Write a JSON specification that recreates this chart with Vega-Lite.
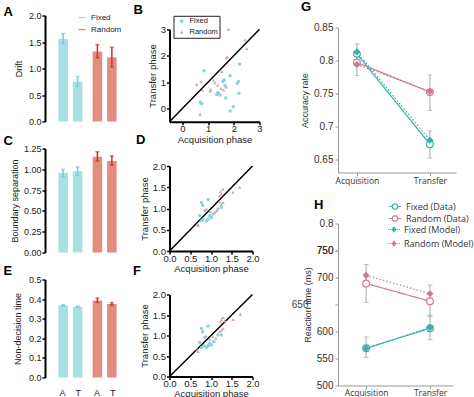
{
  "$schema": "https://vega.github.io/schema/vega-lite/v6.json",
  "padding": {"left": 3, "top": 0.5, "right": 0, "bottom": 0},
  "background": "white",
  "config": {"view": {"stroke": null}, "font": "Liberation Sans", "axis": {"grid": false, "labelOverlap": false, "labelBound": false, "labelFlush": false}, "title": {"fontSize": 13, "fontWeight": "bold", "color": "black", "anchor": "start", "frame": "group"}},
  "datasets": {
    "drift": [
      {"group": "Fixed", "phase": "A", "value": 1.56, "lo": 1.47, "hi": 1.66},
      {"group": "Fixed", "phase": "T", "value": 0.75, "lo": 0.66, "hi": 0.85},
      {"group": "Random", "phase": "A", "value": 1.32, "lo": 1.2, "hi": 1.45},
      {"group": "Random", "phase": "T", "value": 1.21, "lo": 1.03, "hi": 1.4}
    ],
    "boundary": [
      {"group": "Fixed", "phase": "A", "value": 0.955, "lo": 0.91, "hi": 1.0},
      {"group": "Fixed", "phase": "T", "value": 0.977, "lo": 0.93, "hi": 1.03},
      {"group": "Random", "phase": "A", "value": 1.15, "lo": 1.1, "hi": 1.21},
      {"group": "Random", "phase": "T", "value": 1.1, "lo": 1.05, "hi": 1.16}
    ],
    "ndt": [
      {"group": "Fixed", "phase": "A", "value": 0.368, "lo": 0.365, "hi": 0.371},
      {"group": "Fixed", "phase": "T", "value": 0.361, "lo": 0.358, "hi": 0.364},
      {"group": "Random", "phase": "A", "value": 0.393, "lo": 0.383, "hi": 0.405},
      {"group": "Random", "phase": "T", "value": 0.375, "lo": 0.368, "hi": 0.382}
    ],
    "diagB": [{"v": -0.5}, {"v": 3}],
    "diagD": [{"v": 0}, {"v": 2}],
    "scatB": [
      {"group": "Fixed", "acq": 0.84, "transfer": 1.43},
      {"group": "Fixed", "acq": 0.69, "transfer": 0.24},
      {"group": "Fixed", "acq": 0.75, "transfer": 0.18},
      {"group": "Fixed", "acq": 2.23, "transfer": 1.68},
      {"group": "Fixed", "acq": 2.18, "transfer": 1.02},
      {"group": "Fixed", "acq": 2.13, "transfer": 0.96},
      {"group": "Fixed", "acq": 2.2, "transfer": 0.58},
      {"group": "Fixed", "acq": 1.98, "transfer": 0.07},
      {"group": "Fixed", "acq": 1.86, "transfer": -0.09},
      {"group": "Fixed", "acq": 1.62, "transfer": 1.08},
      {"group": "Fixed", "acq": 1.58, "transfer": 1.02},
      {"group": "Fixed", "acq": 1.86, "transfer": 1.24},
      {"group": "Fixed", "acq": 1.4, "transfer": 0.58},
      {"group": "Fixed", "acq": 1.47, "transfer": 0.51},
      {"group": "Fixed", "acq": 1.34, "transfer": 0.53},
      {"group": "Fixed", "acq": 1.38, "transfer": 0.6},
      {"group": "Fixed", "acq": 1.69, "transfer": 0.4},
      {"group": "Fixed", "acq": 1.66, "transfer": 0.87},
      {"group": "Random", "acq": 1.79, "transfer": 3.0},
      {"group": "Random", "acq": 2.44, "transfer": 2.59},
      {"group": "Random", "acq": 2.5, "transfer": 2.27},
      {"group": "Random", "acq": 1.75, "transfer": 1.96},
      {"group": "Random", "acq": 1.7, "transfer": 1.92},
      {"group": "Random", "acq": 1.53, "transfer": 1.4},
      {"group": "Random", "acq": 0.73, "transfer": 1.02},
      {"group": "Random", "acq": 0.56, "transfer": 0.92},
      {"group": "Random", "acq": 0.78, "transfer": 0.7},
      {"group": "Random", "acq": 1.21, "transfer": 1.07},
      {"group": "Random", "acq": 1.27, "transfer": 0.98},
      {"group": "Random", "acq": 1.38, "transfer": 0.89},
      {"group": "Random", "acq": 1.51, "transfer": 0.76},
      {"group": "Random", "acq": 1.6, "transfer": 0.7},
      {"group": "Random", "acq": 1.7, "transfer": 0.82},
      {"group": "Random", "acq": 1.08, "transfer": 0.66},
      {"group": "Random", "acq": 0.69, "transfer": -0.21},
      {"group": "Random", "acq": 1.1, "transfer": 0.73}
    ],
    "scatD": [
      {"group": "Fixed", "acq": 0.77, "transfer": 1.14},
      {"group": "Fixed", "acq": 0.8, "transfer": 1.07},
      {"group": "Fixed", "acq": 0.93, "transfer": 1.21},
      {"group": "Fixed", "acq": 0.85, "transfer": 0.95},
      {"group": "Fixed", "acq": 0.73, "transfer": 0.83},
      {"group": "Fixed", "acq": 0.81, "transfer": 0.75},
      {"group": "Fixed", "acq": 0.77, "transfer": 0.71},
      {"group": "Fixed", "acq": 0.97, "transfer": 0.83},
      {"group": "Fixed", "acq": 1.01, "transfer": 0.79},
      {"group": "Fixed", "acq": 1.05, "transfer": 0.87},
      {"group": "Fixed", "acq": 1.17, "transfer": 0.99},
      {"group": "Fixed", "acq": 1.25, "transfer": 1.03},
      {"group": "Fixed", "acq": 0.93, "transfer": 0.75},
      {"group": "Fixed", "acq": 0.89, "transfer": 0.71},
      {"group": "Random", "acq": 1.69, "transfer": 1.5},
      {"group": "Random", "acq": 1.53, "transfer": 1.38},
      {"group": "Random", "acq": 1.29, "transfer": 1.46},
      {"group": "Random", "acq": 1.23, "transfer": 1.4},
      {"group": "Random", "acq": 1.25, "transfer": 1.34},
      {"group": "Random", "acq": 1.21, "transfer": 1.3},
      {"group": "Random", "acq": 1.29, "transfer": 1.14},
      {"group": "Random", "acq": 1.25, "transfer": 1.1},
      {"group": "Random", "acq": 1.2, "transfer": 1.16},
      {"group": "Random", "acq": 1.13, "transfer": 0.95},
      {"group": "Random", "acq": 1.09, "transfer": 0.91},
      {"group": "Random", "acq": 0.89, "transfer": 0.99},
      {"group": "Random", "acq": 0.97, "transfer": 0.93},
      {"group": "Random", "acq": 0.69, "transfer": 0.6},
      {"group": "Random", "acq": 0.67, "transfer": 0.63}
    ],
    "scatF": [
      {"group": "Fixed", "acq": 0.77, "transfer": 1.17},
      {"group": "Fixed", "acq": 0.8, "transfer": 1.09},
      {"group": "Fixed", "acq": 0.93, "transfer": 1.23},
      {"group": "Fixed", "acq": 0.85, "transfer": 0.95},
      {"group": "Fixed", "acq": 0.73, "transfer": 0.83},
      {"group": "Fixed", "acq": 0.83, "transfer": 0.75},
      {"group": "Fixed", "acq": 0.77, "transfer": 0.71},
      {"group": "Fixed", "acq": 0.97, "transfer": 0.81},
      {"group": "Fixed", "acq": 1.01, "transfer": 0.77},
      {"group": "Fixed", "acq": 1.07, "transfer": 0.85},
      {"group": "Fixed", "acq": 1.17, "transfer": 1.01},
      {"group": "Fixed", "acq": 1.25, "transfer": 1.01},
      {"group": "Fixed", "acq": 0.93, "transfer": 0.75},
      {"group": "Fixed", "acq": 0.89, "transfer": 0.71},
      {"group": "Random", "acq": 1.71, "transfer": 1.52},
      {"group": "Random", "acq": 1.53, "transfer": 1.39},
      {"group": "Random", "acq": 1.29, "transfer": 1.44},
      {"group": "Random", "acq": 1.25, "transfer": 1.39},
      {"group": "Random", "acq": 1.23, "transfer": 1.33},
      {"group": "Random", "acq": 1.33, "transfer": 1.36},
      {"group": "Random", "acq": 1.25, "transfer": 1.13},
      {"group": "Random", "acq": 1.29, "transfer": 1.17},
      {"group": "Random", "acq": 1.21, "transfer": 1.09},
      {"group": "Random", "acq": 1.12, "transfer": 0.93},
      {"group": "Random", "acq": 1.05, "transfer": 0.97},
      {"group": "Random", "acq": 0.88, "transfer": 0.99},
      {"group": "Random", "acq": 0.97, "transfer": 0.91},
      {"group": "Random", "acq": 0.69, "transfer": 0.61},
      {"group": "Random", "acq": 0.67, "transfer": 0.65}
    ],
    "acc": [
      {"phase": "Acquisition", "series": "Fixed (Data)", "kind": "Data", "value": 0.81, "lo": 0.796, "hi": 0.825},
      {"phase": "Transfer", "series": "Fixed (Data)", "kind": "Data", "value": 0.673, "lo": 0.652, "hi": 0.693},
      {"phase": "Acquisition", "series": "Random (Data)", "kind": "Data", "value": 0.797, "lo": 0.777, "hi": 0.812},
      {"phase": "Transfer", "series": "Random (Data)", "kind": "Data", "value": 0.752, "lo": 0.724, "hi": 0.778},
      {"phase": "Acquisition", "series": "Fixed (Model)", "kind": "Model", "value": 0.813},
      {"phase": "Transfer", "series": "Fixed (Model)", "kind": "Model", "value": 0.679},
      {"phase": "Acquisition", "series": "Random (Model)", "kind": "Model", "value": 0.794},
      {"phase": "Transfer", "series": "Random (Model)", "kind": "Model", "value": 0.753}
    ],
    "rt": [
      {"phase": "Acquisition", "series": "Fixed (Data)", "kind": "Data", "value": 569, "lo": 552, "hi": 590},
      {"phase": "Transfer", "series": "Fixed (Data)", "kind": "Data", "value": 606, "lo": 585, "hi": 630},
      {"phase": "Acquisition", "series": "Random (Data)", "kind": "Data", "value": 689, "lo": 654, "hi": 724},
      {"phase": "Transfer", "series": "Random (Data)", "kind": "Data", "value": 656, "lo": 628, "hi": 686},
      {"phase": "Acquisition", "series": "Fixed (Model)", "kind": "Model", "value": 569},
      {"phase": "Transfer", "series": "Fixed (Model)", "kind": "Model", "value": 607},
      {"phase": "Acquisition", "series": "Random (Model)", "kind": "Model", "value": 704},
      {"phase": "Transfer", "series": "Random (Model)", "kind": "Model", "value": 670}
    ]
  },
  "resolve": {"scale": {"color": "independent", "fill": "independent", "stroke": "independent", "shape": "independent", "strokeDash": "independent"}, "legend": {"color": "independent", "fill": "independent", "stroke": "independent", "shape": "independent", "strokeDash": "independent"}},
  "hconcat": [
    {
      "resolve": {"scale": {"color": "independent", "fill": "independent", "stroke": "independent", "shape": "independent", "strokeDash": "independent"}, "legend": {"color": "independent", "fill": "independent", "stroke": "independent", "shape": "independent", "strokeDash": "independent"}},
      "hconcat": [
        {
          "resolve": {"scale": {"color": "independent", "fill": "independent", "shape": "independent"}, "legend": {"color": "independent", "fill": "independent", "shape": "independent"}},
          "bounds": "flush",
          "spacing": 27,
          "vconcat": [
            {
              "width": 85, "height": 106,
              "title": {"text": "A", "offset": -7, "dx": -41.5},
              "data": {"name": "drift"},
              "encoding": {
                "x": {"field": "group", "type": "nominal", "scale": {"paddingInner": 0.3, "paddingOuter": 0.39}, "axis": {"labels": false, "ticks": false, "domain": false, "title": null}},
                "xOffset": {"field": "phase", "type": "nominal", "scale": {"paddingInner": 0.34, "paddingOuter": 0}}
              },
              "layer": [
                {"mark": {"type": "bar"}, "encoding": {
                  "y": {"field": "value", "type": "quantitative", "scale": {"domain": [0, 2], "nice": false}, "axis": {"values": [0, 0.5, 1, 1.5, 2], "tickCount": 20, "format": ".1f", "labelOverlap": false, "title": "Drift", "domainColor": "black", "domainWidth": 2, "tickColor": "black", "tickWidth": 1.5, "tickSize": 3, "labelPadding": 1, "labelFontSize": 9, "labelColor": "#222", "titleFontSize": 9, "titleFontWeight": "normal", "titleColor": "#222", "titlePadding": 5}},
                  "fill": {"field": "group", "type": "nominal", "scale": {"domain": ["Fixed", "Random"], "range": ["#a6e0e2", "#e38c80"]}, "legend": {"title": null, "orient": "none", "legendX": 33, "legendY": -2, "padding": 0, "symbolType": "M-1,-0.2H1V0.2H-1Z", "symbolSize": 49, "symbolStrokeWidth": 0, "labelFontSize": 8, "labelColor": "#222", "rowPadding": 4, "labelOffset": 5}}}},
                {"mark": {"type": "rule", "strokeWidth": 1.5}, "encoding": {
                  "y": {"field": "lo", "type": "quantitative"}, "y2": {"field": "hi"},
                  "color": {"field": "group", "type": "nominal", "scale": {"domain": ["Fixed", "Random"], "range": ["#6fd0d4", "#c0392b"]}, "legend": null}}},
                {"mark": {"type": "tick", "thickness": 1.5, "size": 4}, "encoding": {"y": {"field": "lo", "type": "quantitative"}, "color": {"field": "group", "type": "nominal", "legend": null}}},
                {"mark": {"type": "tick", "thickness": 1.5, "size": 4}, "encoding": {"y": {"field": "hi", "type": "quantitative"}, "color": {"field": "group", "type": "nominal", "legend": null}}}
              ]
            },
            {
              "width": 85, "height": 104,
              "title": {"text": "C", "offset": -3, "dx": -41.5},
              "data": {"name": "boundary"},
              "encoding": {
                "x": {"field": "group", "type": "nominal", "scale": {"paddingInner": 0.3, "paddingOuter": 0.39}, "axis": {"labels": false, "ticks": false, "domain": false, "title": null}},
                "xOffset": {"field": "phase", "type": "nominal", "scale": {"paddingInner": 0.34, "paddingOuter": 0}}
              },
              "layer": [
                {"mark": {"type": "bar"}, "encoding": {
                  "y": {"field": "value", "type": "quantitative", "scale": {"domain": [0, 1.25], "nice": false}, "axis": {"values": [0, 0.25, 0.5, 0.75, 1, 1.25], "tickCount": 20, "format": ".2f", "labelOverlap": false, "title": "Boundary separation", "domainColor": "black", "domainWidth": 2, "tickColor": "black", "tickWidth": 1.5, "tickSize": 3, "labelPadding": 1, "labelFontSize": 9, "labelColor": "#222", "titleFontSize": 9, "titleFontWeight": "normal", "titleColor": "#222", "titlePadding": 4}},
                  "fill": {"field": "group", "type": "nominal", "scale": {"domain": ["Fixed", "Random"], "range": ["#a6e0e2", "#e38c80"]}, "legend": null}}},
                {"mark": {"type": "rule", "strokeWidth": 1.5}, "encoding": {
                  "y": {"field": "lo", "type": "quantitative"}, "y2": {"field": "hi"},
                  "color": {"field": "group", "type": "nominal", "scale": {"domain": ["Fixed", "Random"], "range": ["#6fd0d4", "#c0392b"]}, "legend": null}}},
                {"mark": {"type": "tick", "thickness": 1.5, "size": 4}, "encoding": {"y": {"field": "lo", "type": "quantitative"}, "color": {"field": "group", "type": "nominal", "legend": null}}},
                {"mark": {"type": "tick", "thickness": 1.5, "size": 4}, "encoding": {"y": {"field": "hi", "type": "quantitative"}, "color": {"field": "group", "type": "nominal", "legend": null}}}
              ]
            },
            {
              "width": 85, "height": 98,
              "title": {"text": "E", "offset": -2, "dx": -41.5},
              "data": {"name": "ndt"},
              "encoding": {
                "x": {"field": "group", "type": "nominal", "scale": {"paddingInner": 0.3, "paddingOuter": 0.39}, "axis": {"labelExpr": "'A\u00a0\u00a0\u00a0\u00a0T'", "labelAngle": 0, "labelFontSize": 9, "labelColor": "#222", "labelPadding": 10.5, "ticks": false, "domain": false, "title": null}},
                "xOffset": {"field": "phase", "type": "nominal", "scale": {"paddingInner": 0.34, "paddingOuter": 0}}
              },
              "layer": [
                {"mark": {"type": "bar"}, "encoding": {
                  "y": {"field": "value", "type": "quantitative", "scale": {"domain": [0, 0.5], "nice": false}, "axis": {"values": [0, 0.1, 0.2, 0.3, 0.4, 0.5], "tickCount": 20, "format": ".1f", "labelOverlap": false, "title": "Non-decision time", "domainColor": "black", "domainWidth": 2, "tickColor": "black", "tickWidth": 1.5, "tickSize": 3, "labelPadding": 1, "labelFontSize": 9, "labelColor": "#222", "titleFontSize": 9, "titleFontWeight": "normal", "titleColor": "#222", "titlePadding": 6}},
                  "fill": {"field": "group", "type": "nominal", "scale": {"domain": ["Fixed", "Random"], "range": ["#a6e0e2", "#e38c80"]}, "legend": null}}},
                {"mark": {"type": "rule", "strokeWidth": 1.5}, "encoding": {
                  "y": {"field": "lo", "type": "quantitative"}, "y2": {"field": "hi"},
                  "color": {"field": "group", "type": "nominal", "scale": {"domain": ["Fixed", "Random"], "range": ["#6fd0d4", "#c0392b"]}, "legend": null}}},
                {"mark": {"type": "tick", "thickness": 1.5, "size": 4}, "encoding": {"y": {"field": "lo", "type": "quantitative"}, "color": {"field": "group", "type": "nominal", "legend": null}}},
                {"mark": {"type": "tick", "thickness": 1.5, "size": 4}, "encoding": {"y": {"field": "hi", "type": "quantitative"}, "color": {"field": "group", "type": "nominal", "legend": null}}}
              ]
            }
          ]
        },
        {
          "resolve": {"scale": {"color": "independent", "shape": "independent"}, "legend": {"color": "independent", "shape": "independent"}},
          "bounds": "flush",
          "spacing": 43.5,
          "vconcat": [
            {
              "width": 90, "height": 106.3,
              "title": {"text": "B", "offset": -1.2, "dx": -36},
              "layer": [
                {"data": {"name": "diagB"}, "mark": {"type": "line", "color": "black", "strokeWidth": 1.5}, "encoding": {
                  "x": {"field": "v", "type": "quantitative", "scale": {"domain": [-0.5, 3], "nice": false, "zero": false}, "axis": {"values": [0, 1, 2, 3], "tickCount": 20, "format": "d", "labelOverlap": false, "title": "Acquisition phase", "domainColor": "black", "domainWidth": 2, "tickColor": "black", "tickWidth": 1.5, "tickSize": 3, "labelPadding": -1, "labelFontSize": 9.5, "labelColor": "#222", "titleFontSize": 9.5, "titleFontWeight": "normal", "titleColor": "#222", "titlePadding": 1}},
                  "y": {"field": "v", "type": "quantitative", "scale": {"domain": [-0.5, 3], "nice": false, "zero": false, "range": [106.3, 13.7]}, "axis": {"values": [0, 1, 2, 3], "tickCount": 20, "format": "d", "labelOverlap": false, "title": "Transfer phase", "domainColor": "black", "domainWidth": 2, "tickColor": "black", "tickWidth": 1.5, "tickSize": 3, "labelPadding": 1, "labelFontSize": 9.5, "labelColor": "#222", "titleFontSize": 9.5, "titleFontWeight": "normal", "titleColor": "#222", "titlePadding": 3}}}},
                {"data": {"name": "scatB"}, "mark": {"type": "point", "filled": true, "size": 12, "opacity": 0.95}, "encoding": {
                  "x": {"field": "acq", "type": "quantitative"},
                  "y": {"field": "transfer", "type": "quantitative"},
                  "color": {"field": "group", "type": "nominal", "scale": {"domain": ["Fixed", "Random"], "range": ["#7fd3d6", "#d99ea9"]}, "legend": {"title": null, "orient": "none", "legendX": 4, "legendY": 0.3, "strokeColor": "#222", "padding": 1.5, "labelFontSize": 7.5, "labelColor": "#222", "symbolSize": 14, "symbolOffset": 3, "labelOffset": 4, "rowPadding": 2}},
                  "shape": {"field": "group", "type": "nominal", "scale": {"domain": ["Fixed", "Random"], "range": ["circle", "triangle-up"]}, "legend": {"title": null, "orient": "none", "legendX": 4, "legendY": 0.3, "strokeColor": "#222", "padding": 1.5, "labelFontSize": 7.5, "labelColor": "#222", "symbolSize": 14, "symbolOffset": 3, "labelOffset": 4, "rowPadding": 2}}}}
              ]
            },
            {
              "width": 83, "height": 85,
              "title": {"text": "D", "offset": 13.75, "dx": -33.5},
              "layer": [
                {"data": {"name": "diagD"}, "mark": {"type": "line", "color": "black", "strokeWidth": 1.5}, "encoding": {
                  "x": {"field": "v", "type": "quantitative", "scale": {"domain": [0, 2], "nice": false}, "axis": {"values": [0, 0.5, 1, 1.5, 2], "tickCount": 20, "format": ".1f", "labelOverlap": false, "title": "Acquisition phase", "domainColor": "black", "domainWidth": 2, "tickColor": "black", "tickWidth": 1.5, "tickSize": 3, "labelPadding": -1, "labelFontSize": 9.5, "labelColor": "#222", "titleFontSize": 9.5, "titleFontWeight": "normal", "titleColor": "#222", "titlePadding": 1}},
                  "y": {"field": "v", "type": "quantitative", "scale": {"domain": [0, 2], "nice": false}, "axis": {"values": [0, 0.5, 1, 1.5, 2], "tickCount": 20, "format": ".1f", "labelOverlap": false, "title": "Transfer phase", "domainColor": "black", "domainWidth": 2, "tickColor": "black", "tickWidth": 1.5, "tickSize": 3, "labelPadding": 1, "labelFontSize": 9.5, "labelColor": "#222", "titleFontSize": 9.5, "titleFontWeight": "normal", "titleColor": "#222", "titlePadding": 3}}}},
                {"data": {"name": "scatD"}, "mark": {"type": "point", "filled": true, "size": 12, "opacity": 0.95}, "encoding": {
                  "x": {"field": "acq", "type": "quantitative"},
                  "y": {"field": "transfer", "type": "quantitative"},
                  "color": {"field": "group", "type": "nominal", "scale": {"domain": ["Fixed", "Random"], "range": ["#7fd3d6", "#d99ea9"]}, "legend": null},
                  "shape": {"field": "group", "type": "nominal", "scale": {"domain": ["Fixed", "Random"], "range": ["circle", "triangle-up"]}, "legend": null}}}
              ]
            },
            {
              "width": 83, "height": 82,
              "title": {"text": "F", "offset": 11.75, "dx": -36.5},
              "layer": [
                {"data": {"name": "diagD"}, "mark": {"type": "line", "color": "black", "strokeWidth": 1.5}, "encoding": {
                  "x": {"field": "v", "type": "quantitative", "scale": {"domain": [0, 2], "nice": false}, "axis": {"values": [0, 0.5, 1, 1.5, 2], "tickCount": 20, "format": ".1f", "labelOverlap": false, "title": "Acquisition phase", "domainColor": "black", "domainWidth": 2, "tickColor": "black", "tickWidth": 1.5, "tickSize": 3, "labelPadding": -1, "labelFontSize": 9.5, "labelColor": "#222", "titleFontSize": 9.5, "titleFontWeight": "normal", "titleColor": "#222", "titlePadding": 0}},
                  "y": {"field": "v", "type": "quantitative", "scale": {"domain": [0, 2], "nice": false}, "axis": {"values": [0, 0.5, 1, 1.5, 2], "tickCount": 20, "format": ".1f", "labelOverlap": false, "title": "Transfer phase", "domainColor": "black", "domainWidth": 2, "tickColor": "black", "tickWidth": 1.5, "tickSize": 3, "labelPadding": 1, "labelFontSize": 9.5, "labelColor": "#222", "titleFontSize": 9.5, "titleFontWeight": "normal", "titleColor": "#222", "titlePadding": 3}}}},
                {"data": {"name": "scatF"}, "mark": {"type": "point", "filled": true, "size": 12, "opacity": 0.95}, "encoding": {
                  "x": {"field": "acq", "type": "quantitative"},
                  "y": {"field": "transfer", "type": "quantitative"},
                  "color": {"field": "group", "type": "nominal", "scale": {"domain": ["Fixed", "Random"], "range": ["#7fd3d6", "#d99ea9"]}, "legend": null},
                  "shape": {"field": "group", "type": "nominal", "scale": {"domain": ["Fixed", "Random"], "range": ["circle", "triangle-up"]}, "legend": null}}}
              ]
            }
          ]
        }
      ],
      "spacing": 2.5
    },
    {
      "resolve": {"scale": {"color": "independent", "stroke": "independent", "fill": "independent", "shape": "independent", "strokeDash": "independent"}, "legend": {"color": "independent", "stroke": "independent", "fill": "independent", "shape": "independent", "strokeDash": "independent"}},
      "bounds": "flush",
      "spacing": 51,
      "vconcat": [
        {
          "width": 118, "height": 157,
          "title": {"text": "G", "offset": 1.5, "dx": -37},
          "data": {"name": "acc"},
          "encoding": {"x": {"field": "phase", "type": "nominal", "sort": ["Acquisition", "Transfer"], "scale": {"type": "point", "padding": 0.308, "align": 0.42}, "axis": {"title": null, "labelAngle": 0, "labelFont": "Open Sans", "labelFontSize": 8.5, "labelColor": "#333", "domainColor": "#999", "tickColor": "#999", "tickSize": 3, "labelPadding": 1}}},
          "layer": [
            {"transform": [{"filter": "isValid(datum.lo)"}], "mark": {"type": "rule", "color": "#a8a8a8", "strokeWidth": 1}, "encoding": {"y": {"field": "lo", "type": "quantitative"}, "y2": {"field": "hi"}}},
            {"transform": [{"filter": "isValid(datum.lo)"}], "mark": {"type": "tick", "color": "#a8a8a8", "size": 5, "thickness": 1}, "encoding": {"y": {"field": "lo", "type": "quantitative"}}},
            {"transform": [{"filter": "isValid(datum.lo)"}], "mark": {"type": "tick", "color": "#a8a8a8", "size": 5, "thickness": 1}, "encoding": {"y": {"field": "hi", "type": "quantitative"}}},
            {"mark": {"type": "line", "strokeWidth": 1.2}, "encoding": {
              "y": {"field": "value", "type": "quantitative", "scale": {"domain": [0.63, 0.85], "nice": false, "zero": false, "range": [157, 12]}, "axis": {"values": [0.65, 0.7, 0.75, 0.8, 0.85], "tickCount": 20, "format": "~g", "labelOverlap": false, "title": "Accuracy rate", "domainColor": "#999", "tickColor": "#999", "tickSize": 3, "labelFontSize": 10, "labelColor": "#333", "titleFontSize": 9, "titleFontWeight": "normal", "titleColor": "#333", "titlePadding": 4}},
              "color": {"field": "series", "type": "nominal", "scale": {"domain": ["Fixed (Data)", "Random (Data)", "Fixed (Model)", "Random (Model)"], "range": ["#3aafa9", "#cc7a90", "#3aafa9", "#cc7a90"]}, "legend": null},
              "strokeDash": {"field": "kind", "type": "nominal", "scale": {"domain": ["Data", "Model"], "range": [[1, 0], [1.5, 2]]}, "legend": null},
              "detail": {"field": "series"}}},
            {"transform": [{"filter": "datum.kind == 'Data'"}], "mark": {"type": "point", "shape": "circle", "filled": false, "fill": "white", "size": 45, "strokeWidth": 1.2, "opacity": 1}, "encoding": {
              "y": {"field": "value", "type": "quantitative"},
              "stroke": {"field": "series", "type": "nominal", "scale": {"domain": ["Fixed (Data)", "Random (Data)"], "range": ["#3aafa9", "#cc7a90"]}, "legend": null}}},
            {"transform": [{"filter": "datum.kind == 'Model'"}], "mark": {"type": "point", "shape": "diamond", "filled": true, "size": 50, "opacity": 1}, "encoding": {
              "y": {"field": "value", "type": "quantitative"},
              "fill": {"field": "series", "type": "nominal", "scale": {"domain": ["Fixed (Model)", "Random (Model)"], "range": ["#3aafa9", "#cc7a90"]}, "legend": null}}}
          ]
        },
        {
          "width": 115, "height": 162,
          "title": {"text": "H", "offset": -11.5, "dx": -24},
          "data": {"name": "rt"},
          "encoding": {"x": {"field": "phase", "type": "nominal", "sort": ["Acquisition", "Transfer"], "scale": {"type": "point", "padding": 0.4, "align": 0.55}, "axis": {"title": null, "labelAngle": 0, "labelFont": "Open Sans", "labelFontSize": 8.5, "labelColor": "#333", "domainColor": "#999", "tickColor": "#999", "tickSize": 3, "labelPadding": 0}}},
          "resolve": {"axis": {"y": "independent"}},
          "layer": [
            {"transform": [{"filter": "isValid(datum.lo)"}], "mark": {"type": "rule", "color": "#a8a8a8", "strokeWidth": 1}, "encoding": {"y": {"field": "lo", "type": "quantitative", "axis": {"values": [650], "tickCount": 20, "orient": "left", "offset": 28, "domain": false, "ticks": false, "tickSize": 0, "labelPadding": 2, "title": null, "labelFontSize": 10, "labelColor": "#444", "labelOverlap": false}}, "y2": {"field": "hi"}}},
            {"transform": [{"filter": "isValid(datum.lo)"}], "mark": {"type": "tick", "color": "#a8a8a8", "size": 5, "thickness": 1}, "encoding": {"y": {"field": "lo", "type": "quantitative", "axis": {"values": [650, 750], "tickCount": 20, "orient": "left", "offset": 0, "domain": false, "labels": true, "labelExpr": "datum.value == 650 ? '' : datum.label", "labelFontSize": 10, "labelColor": "#333", "labelOverlap": false, "ticks": true, "tickSize": 3, "tickColor": "#999", "title": null}}}},
            {"transform": [{"filter": "isValid(datum.lo)"}], "mark": {"type": "tick", "color": "#a8a8a8", "size": 5, "thickness": 1}, "encoding": {"y": {"field": "hi", "type": "quantitative", "axis": null}}},
            {"mark": {"type": "line", "strokeWidth": 1.2}, "encoding": {
              "y": {"field": "value", "type": "quantitative", "scale": {"domain": [500, 800], "nice": false, "zero": false}, "axis": {"orient": "left", "values": [500, 550, 600, 700, 750, 800], "tickCount": 20, "labelExpr": "datum.value == 800 ? '0.8' : datum.label", "labelOverlap": false, "title": "Reaction time (ms)", "domainColor": "#999", "tickColor": "#999", "tickSize": 3, "labelFontSize": 10, "labelColor": "#333", "titleFontSize": 9, "titleFontWeight": "normal", "titleColor": "#333", "titlePadding": 4}},
              "color": {"field": "series", "type": "nominal", "scale": {"domain": ["Fixed (Data)", "Random (Data)", "Fixed (Model)", "Random (Model)"], "range": ["#3aafa9", "#cc7a90", "#3aafa9", "#cc7a90"]}, "legend": null},
              "strokeDash": {"field": "kind", "type": "nominal", "scale": {"domain": ["Data", "Model"], "range": [[1, 0], [1.5, 2]]}, "legend": null},
              "detail": {"field": "series"}}},
            {"transform": [{"filter": "datum.kind == 'Data'"}], "mark": {"type": "point", "shape": "circle", "filled": false, "fill": "white", "size": 45, "strokeWidth": 1.2, "opacity": 1}, "encoding": {
              "y": {"field": "value", "type": "quantitative", "axis": null},
              "stroke": {"field": "series", "type": "nominal", "scale": {"domain": ["Fixed (Data)", "Random (Data)"], "range": ["#3aafa9", "#cc7a90"]}, "legend": {"title": null, "orient": "none", "legendX": 51, "legendY": -23, "padding": 0, "symbolType": "M-1.2,0H-0.55M0.55,0H1.2M0.55,0L0.476,0.275L0.275,0.476L0,0.55L-0.275,0.476L-0.476,0.275L-0.55,0L-0.476,-0.275L-0.275,-0.476L0,-0.55L0.275,-0.476L0.476,-0.275Z", "symbolSize": 100, "symbolFillColor": "white", "symbolStrokeWidth": 1.2, "labelOffset": 5, "labelFont": "Open Sans", "labelFontSize": 9, "labelColor": "#333", "rowPadding": 0}}}},
            {"transform": [{"filter": "datum.kind == 'Model'"}], "mark": {"type": "point", "shape": "diamond", "filled": true, "size": 50, "opacity": 1}, "encoding": {
              "y": {"field": "value", "type": "quantitative", "axis": null},
              "fill": {"field": "series", "type": "nominal", "scale": {"domain": ["Fixed (Model)", "Random (Model)"], "range": ["#3aafa9", "#cc7a90"]}, "legend": {"title": null, "orient": "none", "legendX": 51, "legendY": 1, "padding": 0, "symbolType": "M-1.2,-0.09H-1V0.09H-1.2ZM-0.8,-0.09H-0.6V0.09H-0.8ZM0.6,-0.09H0.8V0.09H0.6ZM1,-0.09H1.2V0.09H1ZM0,-0.65L0.5,0L0,0.65L-0.5,0Z", "symbolSize": 100, "symbolStrokeWidth": 0, "labelOffset": 5, "labelFont": "Open Sans", "labelFontSize": 9, "labelColor": "#333", "rowPadding": 4}}}}
          ]
        }
      ]
    }
  ],
  "spacing": 28
}
